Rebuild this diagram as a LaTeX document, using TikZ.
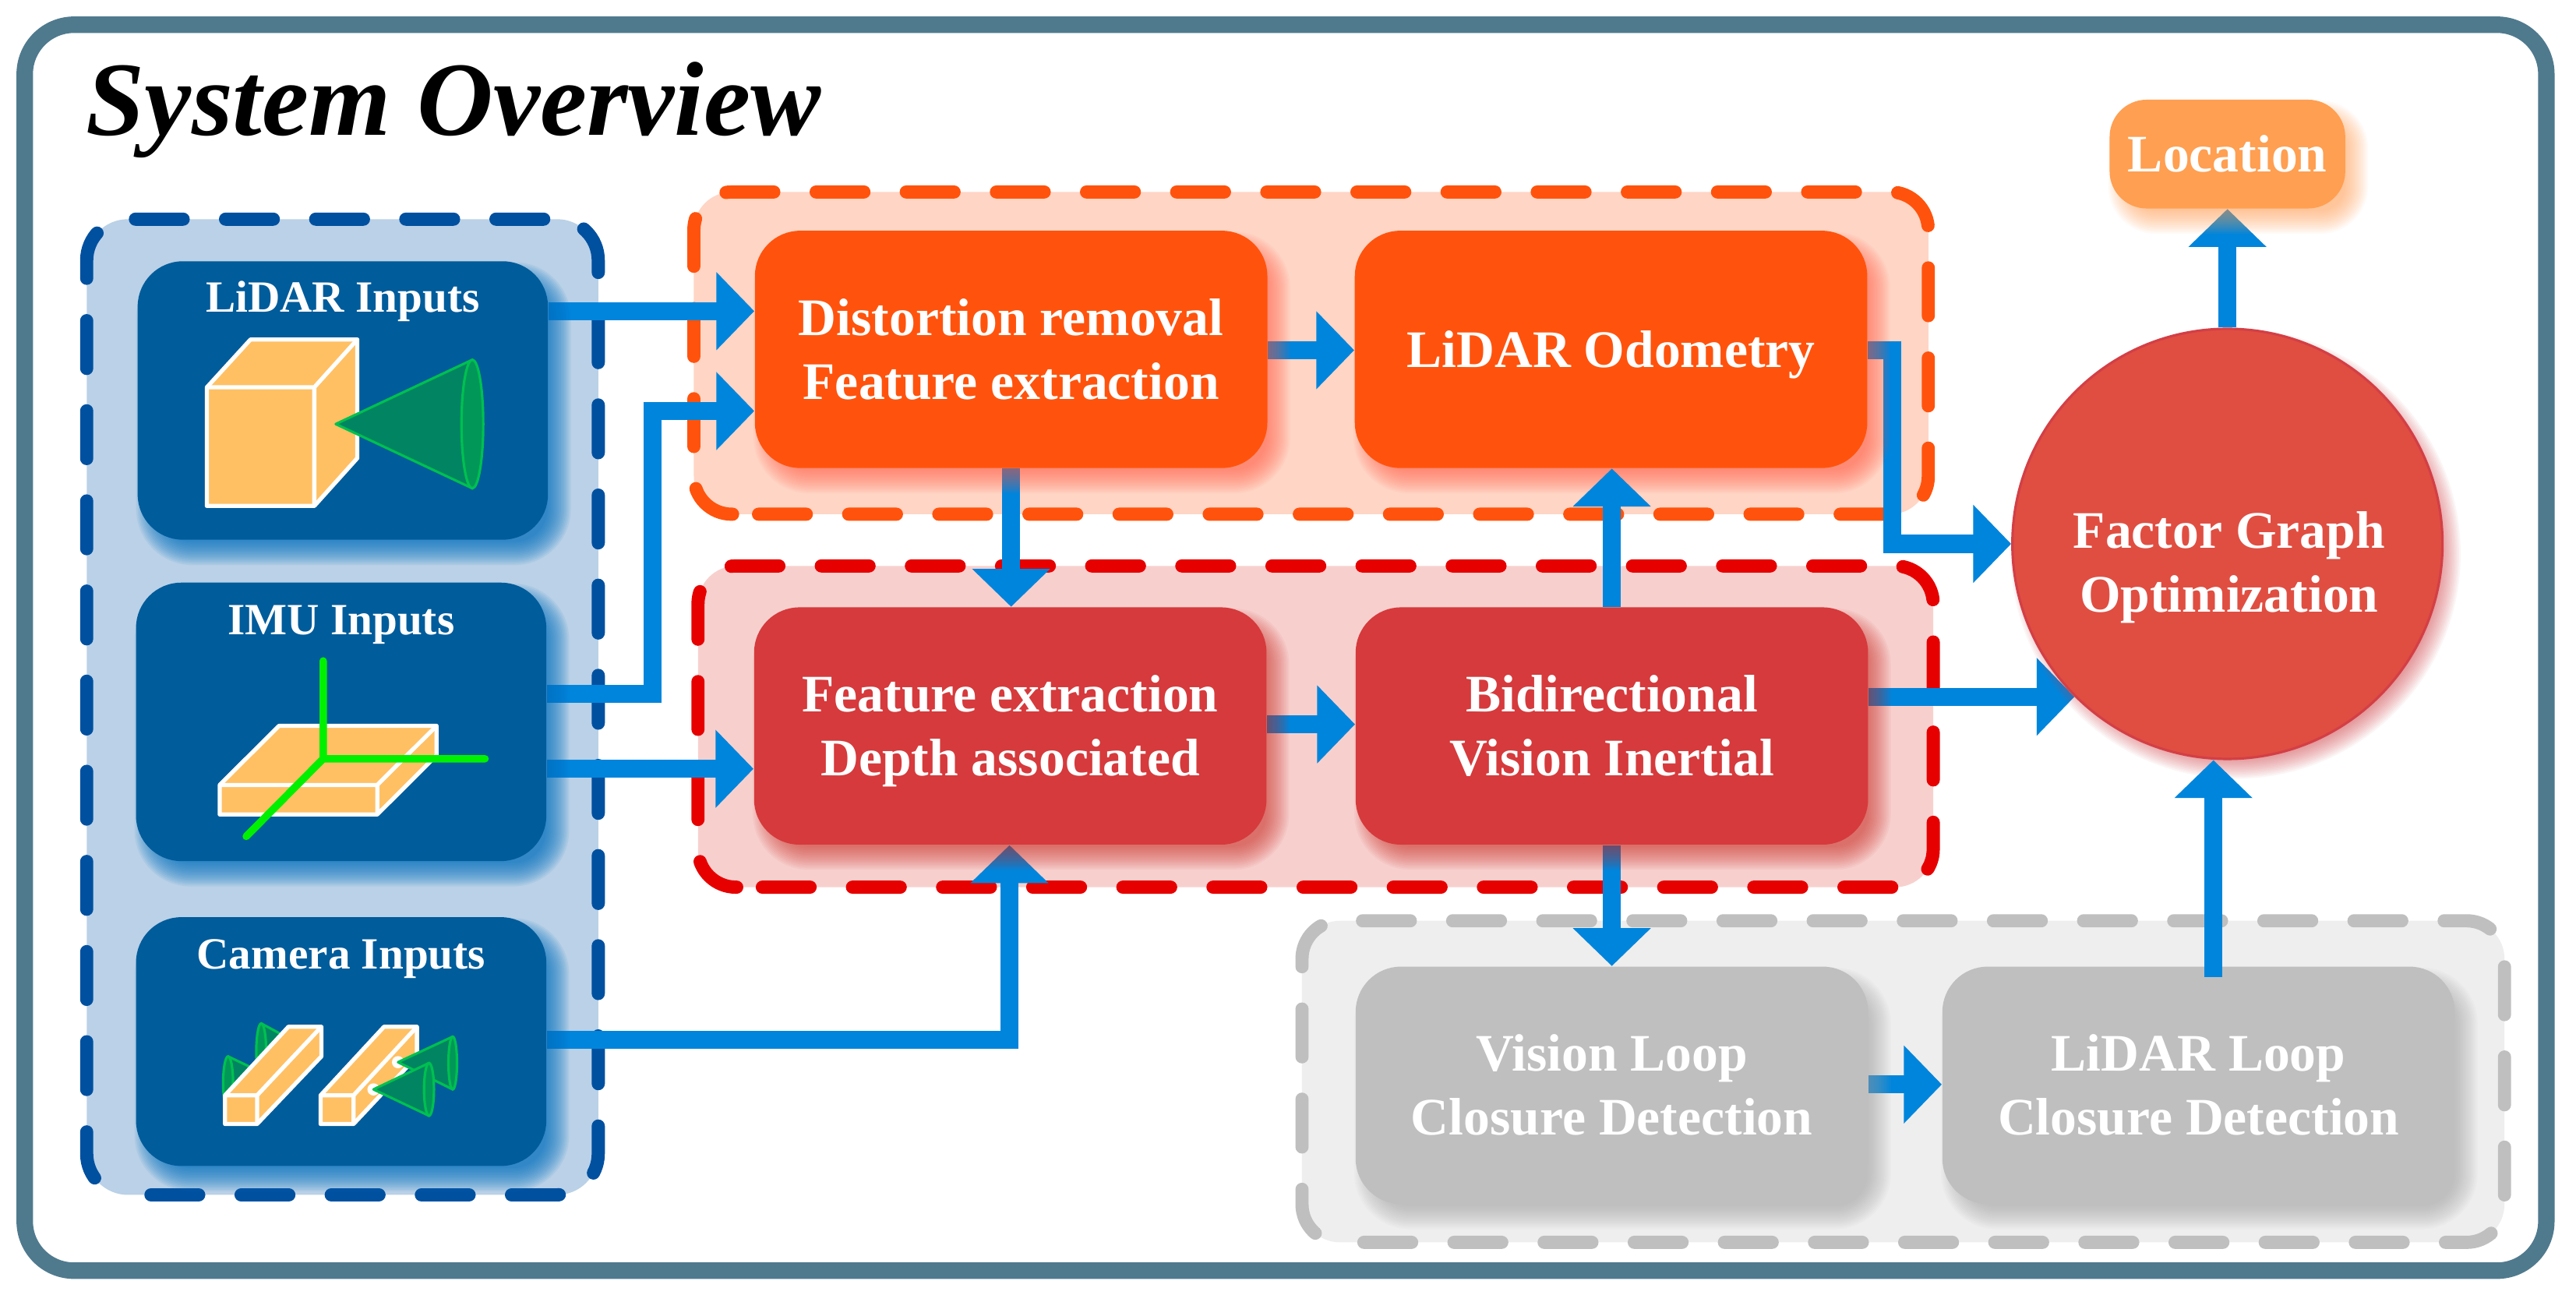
\documentclass[tikz,border=0pt]{standalone}
\usepackage{fontspec}
\setmainfont{Liberation Serif}
\usetikzlibrary{arrows.meta}
\definecolor{frameC}{HTML}{4F7A8E}
\definecolor{inBlue}{HTML}{005C9B}
\definecolor{inShadow}{HTML}{0070C0}
\definecolor{inFill}{HTML}{BAD1E7}
\definecolor{inDash}{HTML}{0050A0}
\definecolor{orFill}{HTML}{FFD5C5}
\definecolor{orBox}{HTML}{FF530D}
\definecolor{orShadow}{HTML}{FF573E}
\definecolor{reFill}{HTML}{F7D0CE}
\definecolor{reDash}{HTML}{E60000}
\definecolor{reBox}{HTML}{D63A3C}
\definecolor{reShadow}{HTML}{CC2A20}
\definecolor{grFill}{HTML}{EEEEEE}
\definecolor{grDash}{HTML}{BFBFBF}
\definecolor{grBox}{HTML}{BFBFBF}
\definecolor{grShadow}{HTML}{A0A0A0}
\definecolor{fgFill}{HTML}{E04E42}
\definecolor{fgEdge}{HTML}{D33F45}
\definecolor{locFill}{HTML}{FF9F51}
\definecolor{flowC}{HTML}{0085DC}
\definecolor{bodyC}{HTML}{FFC064}
\definecolor{coneC}{HTML}{008462}
\definecolor{coneB}{HTML}{009758}
\definecolor{coneE}{HTML}{00C050}
\definecolor{axisC}{HTML}{00F000}
\pgfdeclarelayer{under}
\pgfdeclarelayer{mid}
\pgfsetlayers{under,mid,main}
\tikzset{
  group/.style={line width=.16cm,line cap=round,rounded corners=.46cm,dash pattern=on .58cm off .514cm},
  flow/.style={draw=flowC,line width=.22cm,miter limit=10,-{Triangle[length=.46cm,width=.92cm,color=flowC]}},
  box/.style={rectangle,rounded corners=.55cm,inner sep=0pt,text=white,align=center,
    font=\fontsize{18.2}{22.1}\selectfont\bfseries,minimum width=6.22cm,minimum height=2.88cm},
  inbox/.style={box,fill=inBlue,minimum width=4.98cm},
  title/.style={inner sep=0pt,text=white,font=\fontsize{15.4}{18}\selectfont\bfseries},
  solid3d/.style={fill=bodyC,draw=white,line width=.05cm,line join=round},
  axis/.style={draw=axisC,line width=.09cm,line cap=round},
}
% line strut, so that every box text sits the same way
\newcommand{\ls}{\rule[-4.9pt]{0pt}{22.1pt}}
% stacked soft shadow under a rounded box: node, colour, corner radius in px, opacity of one layer
\newcommand{\softshadow}[4]{%
  \begin{pgfonlayer}{mid}
  \foreach \e in {-7,-6,...,7}{
    \pgfmathsetmacro{\rr}{(#3+\e)*0.02}
    \fill[#2,opacity=#4,rounded corners=\rr cm]
      ([shift={({(6.5-\e)*0.02cm},{(-8-\e)*0.02cm})}]#1.south west) rectangle
      ([shift={({(6.5+\e)*0.02cm},{(-8+\e)*0.02cm})}]#1.north east);
  }
  \end{pgfonlayer}}
% cone: apex x,y, base x,y, base rx, ry
\newcommand{\sensorcone}[6]{%
  \fill[coneC,draw=coneE,line width=.03cm,line join=round] (#1,#2) -- (#3,#4-#6) -- (#3,#4+#6) -- cycle;
  \fill[coneB,draw=coneE,line width=.03cm] (#3,#4) ellipse [x radius=#5,y radius=#6];}
\begin{document}
\begin{tikzpicture}[x=0.02cm,y=-0.02cm]
\useasboundingbox (0,0) rectangle (1563,785.7);
\draw[frameC,line width=.2cm,rounded corners=.6cm] (15,15) rectangle (1545,771);

\node[inner sep=0pt,anchor=base west,font=\fontsize{36.4}{40}\selectfont\bfseries\itshape] (ttl) at (52,82) {System Overview};

% input boxes
\node[inbox,minimum height=3.38cm] (lidar) at (208,243) {};
\node[inbox,minimum height=3.38cm] (imu) at (207,438) {};
\node[inbox,minimum height=3.02cm] (cam) at (207,632) {};
\node[title] (lidarT) at (208,183) {LiDAR Inputs};
\node[title] (imuT) at (207,379) {IMU Inputs};
\node[title] (camT) at (207,582) {Camera Inputs};

% process boxes
\node[box,fill=orBox] (dist) at (613.5,212) {\ls Distortion removal\\\ls Feature extraction};
\node[box,fill=orBox] (odom) at (977.5,212) {\ls LiDAR Odometry};
\node[box,fill=reBox] (feat) at (613,440.5) {\ls Feature extraction\\\ls Depth associated};
\node[box,fill=reBox] (bidi) at (978,440.5) {\ls Bidirectional\\\ls Vision Inertial};
\node[box,fill=grBox] (vloop) at (978,658.5) {\ls Vision Loop\\\ls Closure Detection};
\node[box,fill=grBox] (lloop) at (1334,658.5) {\ls LiDAR Loop\\\ls Closure Detection};
\node[circle,inner sep=0pt,minimum size=5.22cm,fill=fgFill,draw=fgEdge,line width=.03cm] (fg) at (1351.5,330) {};
\node[inner sep=0pt,text=white,align=center,font=\fontsize{18.2}{22.1}\selectfont\bfseries] (fgT) at (1352.5,341) {\ls Factor Graph\\\ls Optimization};
\node[box,fill=locFill,minimum width=2.86cm,minimum height=1.32cm,rounded corners=.45cm] (loc) at (1351.5,93.5) {\ls Location};

% soft shadows
\softshadow{lidar}{inShadow}{27}{.08}
\softshadow{imu}{inShadow}{27}{.08}
\softshadow{cam}{inShadow}{27}{.08}
\softshadow{dist}{orShadow}{27}{.05}
\softshadow{odom}{orShadow}{27}{.05}
\softshadow{feat}{reShadow}{27}{.05}
\softshadow{bidi}{reShadow}{27}{.05}
\softshadow{vloop}{grShadow}{27}{.05}
\softshadow{lloop}{grShadow}{27}{.05}
\softshadow{loc}{locFill}{22}{.05}
\begin{pgfonlayer}{mid}
\foreach \e in {-6,-5,...,6}{
  \fill[fgEdge,opacity=.05] ([shift={(.1cm,-.12cm)}]fg.center) circle [radius=(130.5+\e)*0.02cm];
}
\end{pgfonlayer}

% dashed groups and connectors go below the shadows
% (first point is one radius along the edge: a closed rounded path starts that far on)
\begin{pgfonlayer}{under}
\fill[white] (0,0) rectangle (1563,785.7);
\draw[group,rounded corners=.5cm,dash phase=.616cm,fill=inFill,draw=inDash] (103,725) -- (52.6,725) -- (52.6,133) -- (363,133) -- (363,725) -- cycle;
\draw[group,fill=orFill,draw=orBox] (467.5,312) -- (421,312) -- (421,116.5) -- (1170,116.5) -- (1170,312) -- cycle;
\draw[group,fill=reFill,draw=reDash] (470,538.3) -- (423.5,538.3) -- (423.5,343.4) -- (1173,343.4) -- (1173,538.3) -- cycle;
\draw[group,dash phase=.758cm,fill=grFill,draw=grDash] (836.5,753.8) -- (790,753.8) -- (790,558.7) -- (1519.6,558.7) -- (1519.6,753.8) -- cycle;

\coordinate (r1) at (0,188.8);
\coordinate (c2) at (396,249.4);
\coordinate (r2) at (0,421);
\coordinate (r3) at (0,466.5);
\coordinate (c4) at (612.5,631);
\coordinate (r5) at (0,212.5);
\coordinate (c6) at (1148,212.5);
\coordinate (r8) at (0,439.5);
\coordinate (r12) at (0,658);
\draw[flow] (lidar.east |- r1) -- (dist.west |- r1);
\draw[flow] (imu.east |- r2) -| (c2) -- (dist.west |- c2);
\draw[flow] (imu.east |- r3) -- (feat.west |- r3);
\draw[flow] (cam.east |- c4) -- (c4) -- (feat.south -| c4);
\draw[flow] (dist.east |- r5) -- (odom.west |- r5);
\draw[flow] (odom.east |- c6) -- (c6) |- (fg.west);
\draw[flow] (dist.south) -- (feat.north -| dist.south);
\draw[flow] (feat.east |- r8) -- (bidi.west |- r8);
\draw[flow] (bidi.east |- fg.225) -- (fg.225);
\draw[flow] (bidi.south) -- (vloop.north);
\draw[flow] (vloop.east |- r12) -- (lloop.west |- r12);
\draw[flow] (fg.north) -- (loc.south);
\end{pgfonlayer}

% these two run over the shadows
\coordinate (x13) at (1343,0);
\draw[flow] (bidi.north) -- (odom.south -| bidi.north);
\draw[flow] ([yshift=-.13cm]lloop.north -| x13) -- (fg.south -| x13);

% LiDAR icon
\filldraw[solid3d] (125.5,235) -- (152,206) -- (216.8,206) -- (216.8,278) -- (190.7,307) -- (125.5,307) -- cycle;
\draw[solid3d,fill=none] (125.5,235) -- (190.7,235) -- (216.8,206) (190.7,235) -- (190.7,307);
\sensorcone{203.7}{257.3}{286.6}{257.3}{6.6}{39}

% IMU icon
\filldraw[solid3d] (133.3,476.3) -- (169.3,440.4) -- (264.9,440.4) -- (264.9,458.3) -- (228.9,494.2) -- (133.3,494.2) -- cycle;
\draw[solid3d,fill=none] (133.3,476.3) -- (228.9,476.3) -- (264.9,440.4) (228.9,476.3) -- (228.9,494.2);
\draw[axis] (196.1,401) -- (196.1,460.4) -- (294.3,460.4) (196.1,460.4) -- (149.4,507.5);

% Camera icon
\sensorcone{172}{657}{138.4}{657}{3}{16}
\sensorcone{190}{638}{158.5}{638}{3}{17}
\filldraw[solid3d] (136.5,664.6) -- (175,623) -- (195,623) -- (195,641) -- (156,682) -- (136.5,682) -- cycle;
\draw[solid3d,fill=none] (136.5,664.6) -- (156,664.6) -- (195,623) (156,664.6) -- (156,682);
\filldraw[solid3d] (194.5,664.6) -- (233,623) -- (253,623) -- (253,641) -- (214.5,682) -- (194.5,682) -- cycle;
\draw[solid3d,fill=none] (194.5,664.6) -- (214.5,664.6) -- (253,623) (214.5,664.6) -- (214.5,682);
\fill[white] (241.5,644.5) circle [radius=3.7];
\fill[white] (226.6,661) circle [radius=3.7];
\sensorcone{241.5}{644.5}{274.7}{645}{2.6}{16}
\sensorcone{226.6}{661}{260.3}{661}{3}{16}
\end{tikzpicture}
\end{document}
